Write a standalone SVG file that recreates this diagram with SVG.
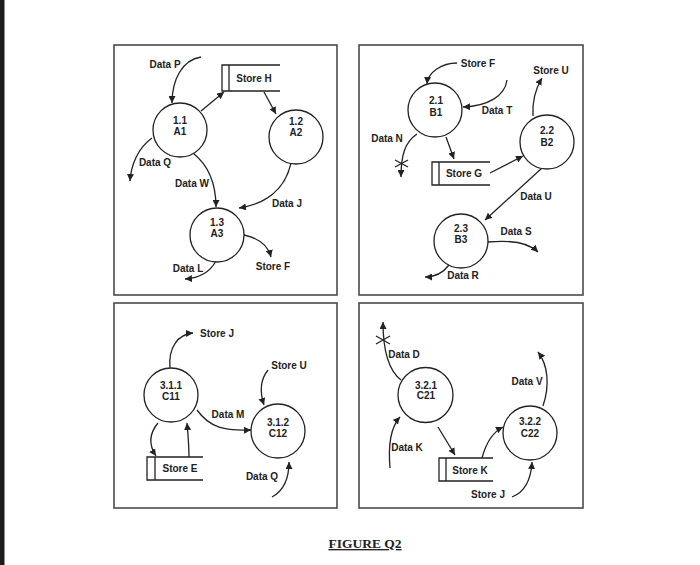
<svg xmlns="http://www.w3.org/2000/svg" width="700" height="565" viewBox="0 0 700 565">
<style>
.panel{fill:none;stroke:#4a4a4a;stroke-width:1.6}
.proc{fill:#fff;stroke:#222;stroke-width:1.3}
.store{fill:none;stroke:#222;stroke-width:1.3}
.c{fill:none;stroke:#222;stroke-width:1.3}
.a{marker-end:url(#ah)}
text{font-family:"Liberation Sans",Arial,sans-serif;font-size:10px;font-weight:bold;fill:#222;text-anchor:middle}
.fig{font-family:"Liberation Serif","Times New Roman",serif;font-size:13.5px;font-weight:bold;text-decoration:underline}
</style>
<defs>
<marker id="ah" viewBox="0 0 10 10" refX="10" refY="5" markerWidth="7" markerHeight="7" markerUnits="userSpaceOnUse" orient="auto">
<path d="M0,0 L10,5 L0,10 z" fill="#222"/>
</marker>
</defs>
<rect x="0" y="0" width="700" height="565" fill="#fff"/>
<rect x="0" y="0" width="4.5" height="565" fill="#1c1c1c"/>
<g id="panels">
<rect class="panel" x="114" y="45" width="223" height="250"/>
<rect class="panel" x="359" y="45" width="224" height="250"/>
<rect class="panel" x="114" y="303" width="223" height="205"/>
<rect class="panel" x="359" y="303" width="224" height="205"/>
</g>
<g id="connectors">
<path class="c a" d="M201,57 C182,60 172,80 172,103"/>
<path class="c a" d="M201,111 L224,92"/>
<path class="c a" d="M264,92 L276,114"/>
<path class="c a" d="M152,138 C138,148 131,165 130,181"/>
<path class="c a" d="M193,153 C208,165 216,183 216,207"/>
<path class="c a" d="M291,163 C285,190 265,204 239,208"/>
<path class="c a" d="M244,235 C258,238 268,245 271,257"/>
<path class="c a" d="M216,261 C210,272 200,278 185,279"/>
<path class="c a" d="M457,63 C442,63 428,72 427,84"/>
<path class="c a" d="M507,80 C505,96 488,106 463,107"/>
<path class="c a" d="M533,116 C532,100 536,88 542,78"/>
<path class="c a" d="M417,134 C405,142 401,155 401,177"/>
<path class="c" d="M395,160 L408,167 M395,167 L408,160"/>
<path class="c a" d="M446,137 L454,159"/>
<path class="c a" d="M490,173 L523,156"/>
<path class="c a" d="M542,168 L485,220"/>
<path class="c a" d="M488,242 C510,240 528,242 538,252"/>
<path class="c a" d="M449,265 C443,273 435,277 425,277"/>
<path class="c a" d="M170,368 C168,348 178,334 193,333"/>
<path class="c a" d="M158,423 C148,435 150,447 156,456"/>
<path class="c a" d="M189,457 C189,445 188,435 187,423"/>
<path class="c a" d="M197,410 C210,428 225,431 251,430"/>
<path class="c a" d="M268,370 C260,380 260,393 264,405"/>
<path class="c a" d="M272,497 C285,490 289,478 289,462"/>
<path class="c a" d="M401,380 C388,370 383,350 383,322"/>
<path class="c" d="M376,336 L390,344 M376,344 L390,336"/>
<path class="c a" d="M390,468 C388,445 390,428 400,417"/>
<path class="c a" d="M438,427 L455,455"/>
<path class="c a" d="M482,458 C486,443 493,432 503,427"/>
<path class="c a" d="M543,406 C550,385 548,365 538,352"/>
<path class="c a" d="M512,497 C525,492 531,480 532,462"/>
</g>
<g id="labels">
<text x="165" y="68">Data P</text>
<text x="155" y="166">Data Q</text>
<text x="192" y="187">Data W</text>
<text x="287" y="207">Data J</text>
<text x="273" y="270">Store F</text>
<text x="188" y="272">Data L</text>
<text x="478" y="67">Store F</text>
<text x="497" y="114">Data T</text>
<text x="551" y="74">Store U</text>
<text x="387" y="142">Data N</text>
<text x="536" y="200">Data U</text>
<text x="516" y="235">Data S</text>
<text x="463" y="279">Data R</text>
<text x="217" y="337">Store J</text>
<text x="228" y="418">Data M</text>
<text x="289" y="369">Store U</text>
<text x="262" y="480">Data Q</text>
<text x="404" y="358">Data D</text>
<text x="407" y="451">Data K</text>
<text x="527" y="385">Data V</text>
<text x="488" y="498">Store J</text>
</g>
<g id="n11"><circle class="proc" cx="180" cy="130" r="27"/><text x="180" y="124">1.1</text><text x="180" y="135">A1</text></g>
<g id="n12"><circle class="proc" cx="296" cy="137" r="27"/><text x="296" y="125">1.2</text><text x="296" y="136">A2</text></g>
<g id="n13"><circle class="proc" cx="217" cy="235" r="27"/><text x="217" y="226">1.3</text><text x="217" y="237">A3</text></g>
<g id="storeH"><path class="store" d="M280,65 L222,65 L222,91 L280,91 M229,65 L229,91"/><text x="254" y="82">Store H</text></g>
<g id="n21"><circle class="proc" cx="435" cy="110" r="27"/><text x="436" y="104">2.1</text><text x="436" y="116">B1</text></g>
<g id="n22"><circle class="proc" cx="547" cy="142" r="27"/><text x="547" y="134">2.2</text><text x="547" y="146">B2</text></g>
<g id="n23"><circle class="proc" cx="461" cy="241" r="27"/><text x="461" y="232">2.3</text><text x="461" y="243">B3</text></g>
<g id="storeG"><path class="store" d="M490,162 L432,162 L432,185 L490,185 M439,162 L439,185"/><text x="464" y="177">Store G</text></g>
<g id="n311"><circle class="proc" cx="171" cy="395" r="27"/><text x="171" y="389">3.1.1</text><text x="171" y="400">C11</text></g>
<g id="n312"><circle class="proc" cx="278" cy="431" r="27"/><text x="278" y="426">3.1.2</text><text x="278" y="437">C12</text></g>
<g id="storeE"><path class="store" d="M203,457 L147,457 L147,480 L203,480 M155,457 L155,480"/><text x="180" y="472">Store E</text></g>
<g id="n321"><circle class="proc" cx="425.5" cy="395" r="27.5"/><text x="426" y="389">3.2.1</text><text x="426" y="399">C21</text></g>
<g id="n322"><circle class="proc" cx="530" cy="433" r="27"/><text x="530" y="425">3.2.2</text><text x="530" y="437">C22</text></g>
<g id="storeK"><path class="store" d="M493,458 L439,458 L439,481 L493,481 M446,458 L446,481"/><text x="470" y="474">Store K</text></g>
<text class="fig" x="365" y="548">FIGURE Q2</text>
</svg>
